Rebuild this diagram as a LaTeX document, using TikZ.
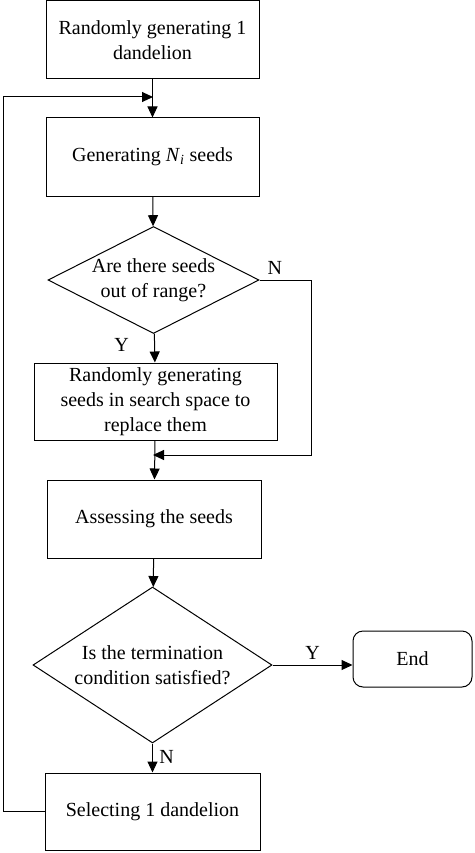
\documentclass[tikz,border=0pt]{standalone}
\usepackage{fontspec}
\setmainfont{Liberation Serif}
\usetikzlibrary{shapes.geometric,arrows.meta}
\begin{document}
\begin{tikzpicture}[x=1pt,y=-1pt,line width=1pt,
    >={Triangle[length=11pt,width=10pt]},
    every node/.style={font=\fontsize{20}{25}\selectfont},
    process/.style ={rectangle, draw, align=center, inner sep=0pt},
    decision/.style ={diamond, draw, align=center, inner sep=0pt},
    terminal/.style ={rectangle, draw, rounded corners=10pt, inner sep=0pt}]
   \useasboundingbox (0,0) rectangle (474,853);
   \node[process, minimum width=213pt, minimum height=78pt] (init) at (152.5,40) {Randomly generating 1\\dandelion};
   \node[process, minimum width=213pt, minimum height=78pt] (gen) at (152.5,157) {Generating \textit{N}\textsubscript{\textit{i}} seeds};
   \node[decision, shape aspect=1.97, minimum width=211pt, minimum height=107pt] (range) at (153.5,280) {Are there seeds\\out of range?};
   \node[process, minimum width=243pt, minimum height=77pt] (replace) at (155.5,401.5) {Randomly generating\\seeds in search space to\\replace them};
   \node[process, minimum width=214pt, minimum height=78pt] (assess) at (154,519) {Assessing the seeds};
   \node[decision, shape aspect=1.53, minimum width=239pt, minimum height=156pt] (stop) at (152.5,665) {Is the termination\\condition satisfied?};
   \node[terminal, minimum width=119pt, minimum height=56pt] (end) at (412.5,659) {End};
   \node[process, minimum width=215pt, minimum height=77pt] (select) at (152.5,811.5) {Selecting 1 dandelion};
   \coordinate (loop) at (153,97);
   \coordinate (join) at (153,455);
   \draw[->] (init) -- (gen);
   \draw[->] (gen) -- (range);
   \draw[->] (range) -- node[pos=0.4, left=22pt] (yes1) {Y} (replace);
   \draw[->] (range.east) -- node[pos=0.3, above=2pt] (no1) {N} (311,280) -- (311,455) -- (join);
   \draw[->] (replace) -- (assess);
   \draw[->] (assess) -- (stop);
   \draw[->] (stop.east) -- node[above=2pt] (yes2) {Y} (stop.east -| end.west);
   \draw[->] (stop) -- node[pos=0.45, right=3pt] (no2) {N} (select);
   \draw[->] (select.west) -- (3,811.5) -- (3,97) -- (loop);
 \end{tikzpicture}
\end{document}
